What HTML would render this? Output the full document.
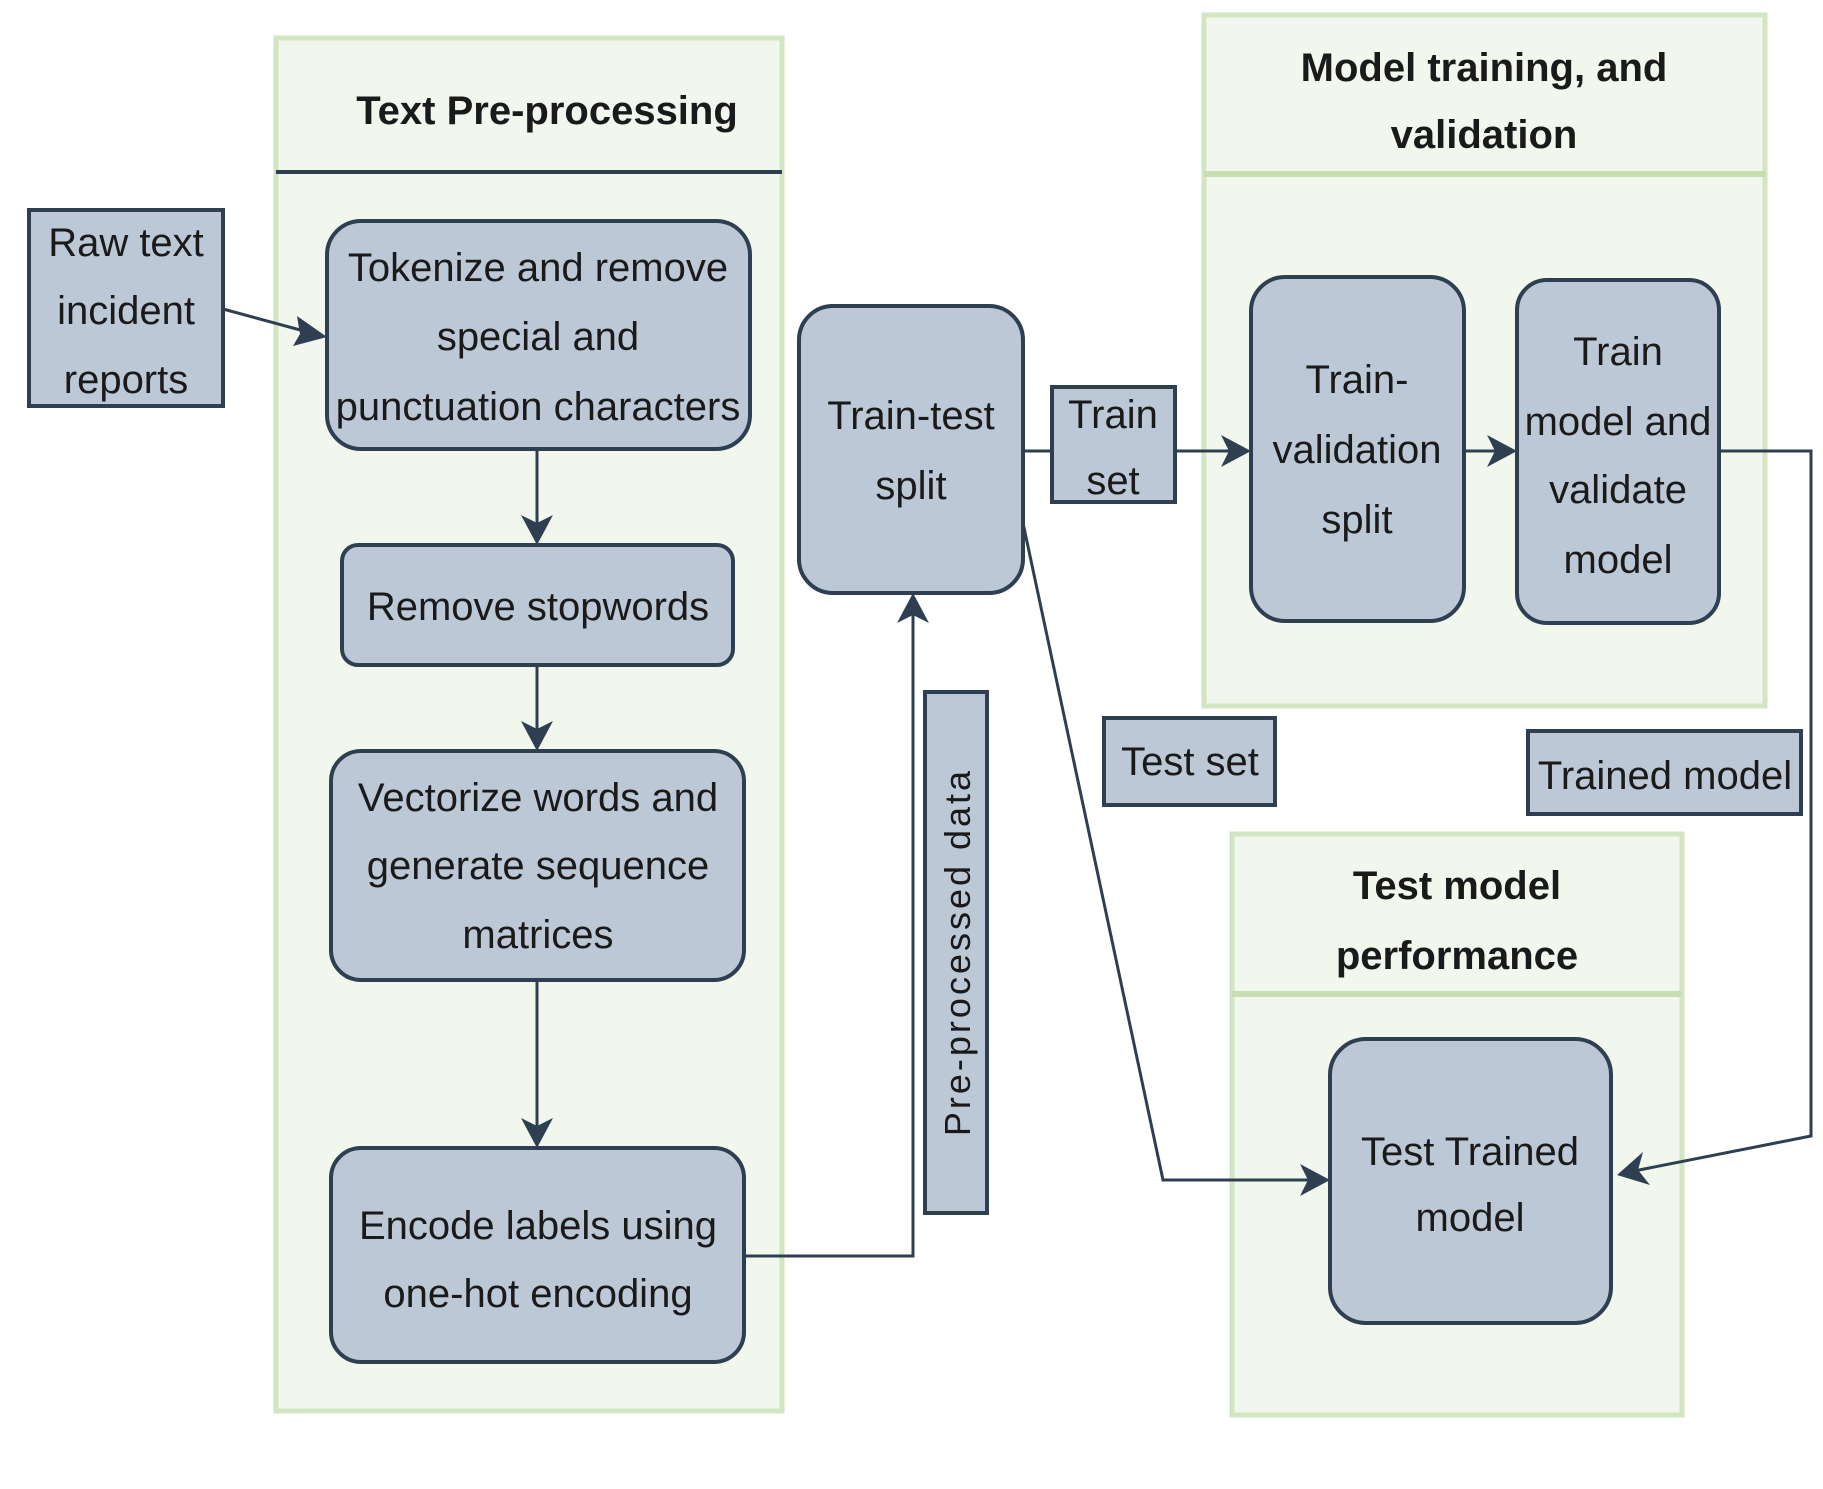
<!DOCTYPE html>
<html><head><meta charset="utf-8"><style>
html,body{margin:0;padding:0;background:#fff;}
svg text{font-family:"Liberation Sans Narrow","Liberation Sans",sans-serif;fill:#1a1a1a;}
</style></head><body>
<svg width="1823" height="1484" viewBox="0 0 1823 1484" xmlns="http://www.w3.org/2000/svg">
<g fill="#f1f7ec" stroke="#d3e6c2" stroke-width="5">
<rect x="276" y="38" width="506" height="1373"/>
<rect x="1204" y="15" width="561" height="691"/>
<rect x="1232" y="834" width="450" height="581"/>
</g>
<line x1="276" y1="172" x2="782" y2="172" stroke="#2e3f52" stroke-width="4"/>
<line x1="1204" y1="174" x2="1765" y2="174" stroke="#c6deb0" stroke-width="6"/>
<line x1="1232" y1="994" x2="1682" y2="994" stroke="#c6deb0" stroke-width="6"/>
<g font-weight="bold" font-size="40" text-anchor="middle">
<text x="547" y="124">Text Pre-processing</text>
<text x="1484" y="81">Model training, and</text>
<text x="1484" y="148">validation</text>
<text x="1457" y="899">Test model</text>
<text x="1457" y="969">performance</text>
</g>
<g fill="#bdc8d6" stroke="#2e3f52" stroke-width="4">
<rect x="29" y="210" width="194" height="196"/>
<rect x="327" y="221" width="423" height="228" rx="34"/>
<rect x="342" y="545" width="391" height="120" rx="16"/>
<rect x="331" y="751" width="413" height="229" rx="30"/>
<rect x="331" y="1148" width="413" height="214" rx="30"/>
<rect x="799" y="306" width="224" height="287" rx="34"/>
<rect x="1052" y="387" width="123" height="115"/>
<rect x="1251" y="277" width="213" height="344" rx="34"/>
<rect x="1517" y="280" width="202" height="343" rx="30"/>
<rect x="1104" y="718" width="171" height="87"/>
<rect x="1528" y="731" width="273" height="83"/>
<rect x="1330" y="1039" width="281" height="284" rx="36"/>
<rect x="925" y="692" width="62" height="521"/>
</g>
<g fill="none" stroke="#2e3f52" stroke-width="3">
<line x1="223" y1="309" x2="315" y2="334"/>
<line x1="537" y1="449" x2="537" y2="535"/>
<line x1="537" y1="665" x2="537" y2="741"/>
<line x1="537" y1="980" x2="537" y2="1138"/>
<polyline points="744,1256 913,1256 913,605"/>
<line x1="1023" y1="451" x2="1052" y2="451"/>
<line x1="1175" y1="451" x2="1239" y2="451"/>
<line x1="1464" y1="451" x2="1505" y2="451"/>
<polyline points="1719,451 1811,451 1811,1136 1629,1172"/>
<polyline points="1023,523 1163,1180 1318,1180"/>
</g>
<g fill="#2e3f52">
<polygon points="327,337 293,346 300,334 297,316"/>
<polygon points="537,545 521,515 537,523 553,515"/>
<polygon points="537,751 521,721 537,729 553,721"/>
<polygon points="537,1148 521,1118 537,1126 553,1118"/>
<polygon points="913,593 897,623 913,615 929,623"/>
<polygon points="1251,451 1221,435 1229,451 1221,467"/>
<polygon points="1517,451 1487,435 1495,451 1487,467"/>
<polygon points="1330,1180 1300,1164 1308,1180 1300,1196"/>
<polygon points="1617,1175 1643,1152 1638,1170 1650,1185"/>
</g>
<g font-size="40" text-anchor="middle">
<text x="126" y="256">Raw text</text>
<text x="126" y="324">incident</text>
<text x="126" y="393">reports</text>
<text x="538" y="281">Tokenize and remove</text>
<text x="538" y="350">special and</text>
<text x="538" y="420">punctuation characters</text>
<text x="538" y="620">Remove stopwords</text>
<text x="538" y="811">Vectorize words and</text>
<text x="538" y="879">generate sequence</text>
<text x="538" y="948">matrices</text>
<text x="538" y="1239">Encode labels  using</text>
<text x="538" y="1307">one-hot encoding</text>
<text x="911" y="429">Train-test</text>
<text x="911" y="499">split</text>
<text x="1113" y="428">Train</text>
<text x="1113" y="494">set</text>
<text x="1357" y="393">Train-</text>
<text x="1357" y="463">validation</text>
<text x="1357" y="533">split</text>
<text x="1618" y="365">Train</text>
<text x="1618" y="435">model and</text>
<text x="1618" y="503">validate</text>
<text x="1618" y="573">model</text>
<text x="1190" y="775">Test set</text>
<text x="1665" y="789">Trained model</text>
<text x="1470" y="1165">Test Trained</text>
<text x="1470" y="1231">model</text>
<text transform="translate(970,952) rotate(-90)" font-family="Liberation Sans" font-size="36" letter-spacing="3">Pre-processed data</text>
</g>
</svg>
</body></html>
